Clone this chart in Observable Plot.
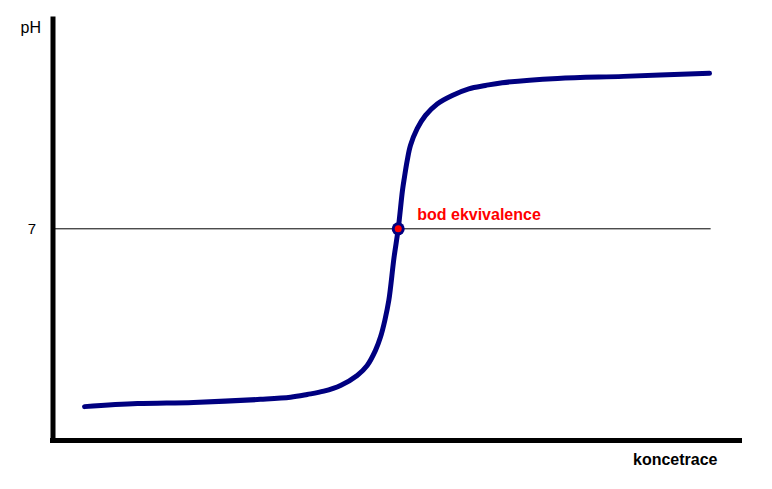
<!DOCTYPE html>
<html>
<head>
<meta charset="utf-8">
<script src="https://cdn.jsdelivr.net/npm/d3@7"></script>
<script src="https://cdn.jsdelivr.net/npm/@observablehq/plot@0.6"></script>
<style>
  html, body { margin: 0; padding: 0; background: #fff; }
  svg { display: block; }
</style>
</head>
<body>
<div id="chart"></div>
<script>
// Titration curve (concentration vs pH)
const conc = [4.59, 12.3, 20.45, 30.2, 34.57, 37.0, 39.42, 41.85, 44.28, 45.73, 46.94, 47.67, 48.3, 48.88, 49.64, 50.25, 50.87, 51.16, 51.56, 52.04, 53.01, 54.22, 55.92, 58.11, 60.52, 62.95, 65.39, 73.44, 83.04, 95.56];
const pH   = [1.12, 1.22, 1.26, 1.36, 1.43, 1.52, 1.63, 1.82, 2.15, 2.48, 2.98, 3.42, 3.97, 4.63, 6.05, 7.0, 8.27, 8.71, 9.26, 9.76, 10.31, 10.75, 11.13, 11.41, 11.63, 11.74, 11.83, 11.97, 12.04, 12.14];
const equivalence = [{x: 50.25, y: 7, label: "bod ekvivalence"}];
const neutralLine = [{y: 7, x1: 0, x2: 95.8}];
const yTicks = [7];
const xLabel = "koncetrace";
const yLabel = "pH";
const xDomain = [0, 100];
const yDomain = [0, 14];

const curve = conc.map((c, i) => ({x: c, y: pH[i]}));

const chart = Plot.plot({
  width: 772,
  height: 489,
  marginLeft: 52.5,
  marginRight: 32.5,
  marginTop: 16.6,
  marginBottom: 49,
  style: {fontFamily: "'Liberation Sans', Arial, sans-serif", fontSize: "15px", background: "#fff", color: "#000"},
  x: {domain: xDomain, axis: null},
  y: {domain: yDomain, axis: null},
  marks: [
    Plot.ruleY(neutralLine, {y: "y", x1: "x1", x2: "x2", stroke: "#000", strokeWidth: 1}),
    Plot.axisY(yTicks, {tickSize: 0, tickPadding: 17, fontSize: 15, label: null, fill: "#000"}),
    Plot.ruleX([xDomain[0]], {y1: yDomain[0], y2: yDomain[1], stroke: "#000", strokeWidth: 5}),
    Plot.ruleY([yDomain[0]], {x1: xDomain[0], x2: xDomain[1], stroke: "#000", strokeWidth: 5, strokeLinecap: "square"}),
    Plot.line(curve, {x: "x", y: "y", curve: "catmull-rom", stroke: "#000080", strokeWidth: 5, strokeLinecap: "round", strokeLinejoin: "round"}),
    Plot.dot(equivalence, {x: "x", y: "y", r: 6.5, fill: "#000080", stroke: "none"}),
    Plot.dot(equivalence, {x: "x", y: "y", r: 3.5, fill: "#ff0000", stroke: "none"}),
    Plot.text(equivalence, {x: "x", y: "y", text: "label", dx: 19, dy: -14, textAnchor: "start", fill: "#ff0000", fontWeight: "bold", fontSize: 16}),
    Plot.text([xLabel], {x: xDomain[1], y: yDomain[0], text: d => d, dx: -22.5, dy: 19, textAnchor: "end", fontWeight: "bold", fontSize: 16, fill: "#000"}),
    Plot.text([yLabel], {x: xDomain[0], y: yDomain[1], text: d => d, dx: -32.5, dy: 10.5, textAnchor: "start", fontSize: 16, fill: "#000"})
  ]
});
document.getElementById("chart").appendChild(chart);
</script>
</body>
</html>
